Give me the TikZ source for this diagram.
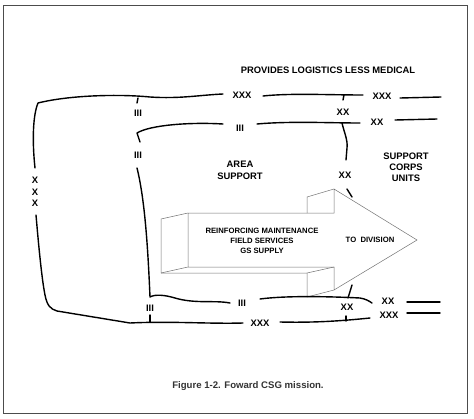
\documentclass[tikz,border=0pt]{standalone}
\usepackage{fontspec}
\setmainfont{Liberation Sans}
\begin{document}
\begin{tikzpicture}[x=1pt,y=-1pt,
  bl/.style={line width=1.4pt, line cap=round, line join=round},
  ar/.style={line width=0.5pt, draw=black!55, line join=miter},
  lab/.style={font=\fontsize{9.4}{10}\selectfont\bfseries, inner sep=0pt},
  small/.style={font=\fontsize{7.7}{10}\selectfont\bfseries, inner sep=0pt, align=center}]
\useasboundingbox (0,0) rectangle (474,418);
\draw[line width=1pt, black!70] (3,5) rectangle (467,413);
% arrow
\draw[ar, fill=white] (188,213) -- (334,213) -- (334,189) -- (417,240) -- (334,290) -- (334,267) -- (188,267) -- cycle;
\draw[ar] (161,219) -- (188,213);
\draw[ar] (161,219) -- (161,273) -- (188,267);
\draw[ar] (161,273) -- (307,273) -- (334,267);
\draw[ar] (307,273) -- (307,297) -- (334,290);
\draw[ar] (307,213) -- (307,197) -- (334,189);
% boundary lines
\draw[bl] (35,168) .. controls (32,140) and (33,115) .. (38,103) .. controls (70,95) and (120,94) .. (150,97) .. controls (180,99) and (200,95) .. (223,94);
\draw[bl] (263,96) .. controls (290,93) and (330,95) .. (363,95);
\draw[bl] (400,98) -- (441,97);
\draw[bl] (344,95) -- (343,100);
\draw[bl] (138,98) -- (137,103);
\draw[bl] (140,142) -- (137,133) .. controls (150,125) and (190,122) .. (223,124);
\draw[bl] (257,124) .. controls (290,121) and (330,123) .. (360,123);
\draw[bl] (395,120) -- (437,119);
\draw[bl] (342,123) .. controls (344,132) and (348,140) .. (347,148) -- (346,160);
\draw[bl] (347,189) -- (352,197);
\draw[bl] (36,215) .. controls (39,250) and (42,280) .. (45,295) .. controls (47,305) and (50,309) .. (57,311) -- (130,323) .. controls (170,321) and (210,324) .. (243,323);
\draw[bl] (137,168) .. controls (145,200) and (148,250) .. (150,297) .. controls (155,294) and (165,295) .. (175,298) .. controls (195,304) and (215,300) .. (230,303);
\draw[bl] (260,299) .. controls (290,295) and (340,297) .. (360,298) .. controls (366,299) and (369,301) .. (372,303);
\draw[bl] (407,302) -- (440,302);
\draw[bl] (348,298) -- (352,285);
\draw[bl] (280,322) .. controls (320,323) and (350,320) .. (370,318);
\draw[bl] (407,313) -- (440,313);
\draw[bl] (346,316) -- (346,321);
\draw[bl] (150,315) -- (150,322);
% labels
\node[lab] (prov) at (328,70) {PROVIDES LOGISTICS LESS MEDICAL};
\node[lab] (t1) at (242,95) {XXX};
\node[lab] (t2) at (382,96) {XXX};
\node[lab] (t3) at (343,112) {XX};
\node[lab] (t4) at (138,113) {III};
\node[lab] (t5) at (240,128) {III};
\node[lab] (t6) at (377,122) {XX};
\node[lab] (t7) at (138,155) {III};
\node[lab] (x1) at (35,180) {X};
\node[lab] (x2) at (35,192) {X};
\node[lab] (x3) at (35,203) {X};
\node[lab, align=center, font=\fontsize{9.4}{12}\selectfont\bfseries] (area) at (240,170) {AREA\\SUPPORT};
\node[lab] (t8) at (345,175) {XX};
\node[lab, align=center, font=\fontsize{9.4}{11}\selectfont\bfseries] (corps) at (406,167) {SUPPORT\\CORPS\\UNITS};
\node[small] (rein) at (262,241) {REINFORCING MAINTENANCE\\FIELD SERVICES\\GS SUPPLY};
\node[small] (div) at (370,240) {TO\ \ DIVISION};
\node[lab] (b1) at (242,303) {III};
\node[lab] (b2) at (388,301) {XX};
\node[lab] (b3) at (389,315) {XXX};
\node[lab] (b4) at (347,307) {XX};
\node[lab] (b5) at (150,308) {III};
\node[lab] (b6) at (260,323) {XXX};
\node[font=\fontsize{9.6}{11}\selectfont\bfseries, text=black!80, inner sep=0pt] (cap) at (248,386) {Figure 1-2. Foward CSG mission.};
\end{tikzpicture}
\end{document}
